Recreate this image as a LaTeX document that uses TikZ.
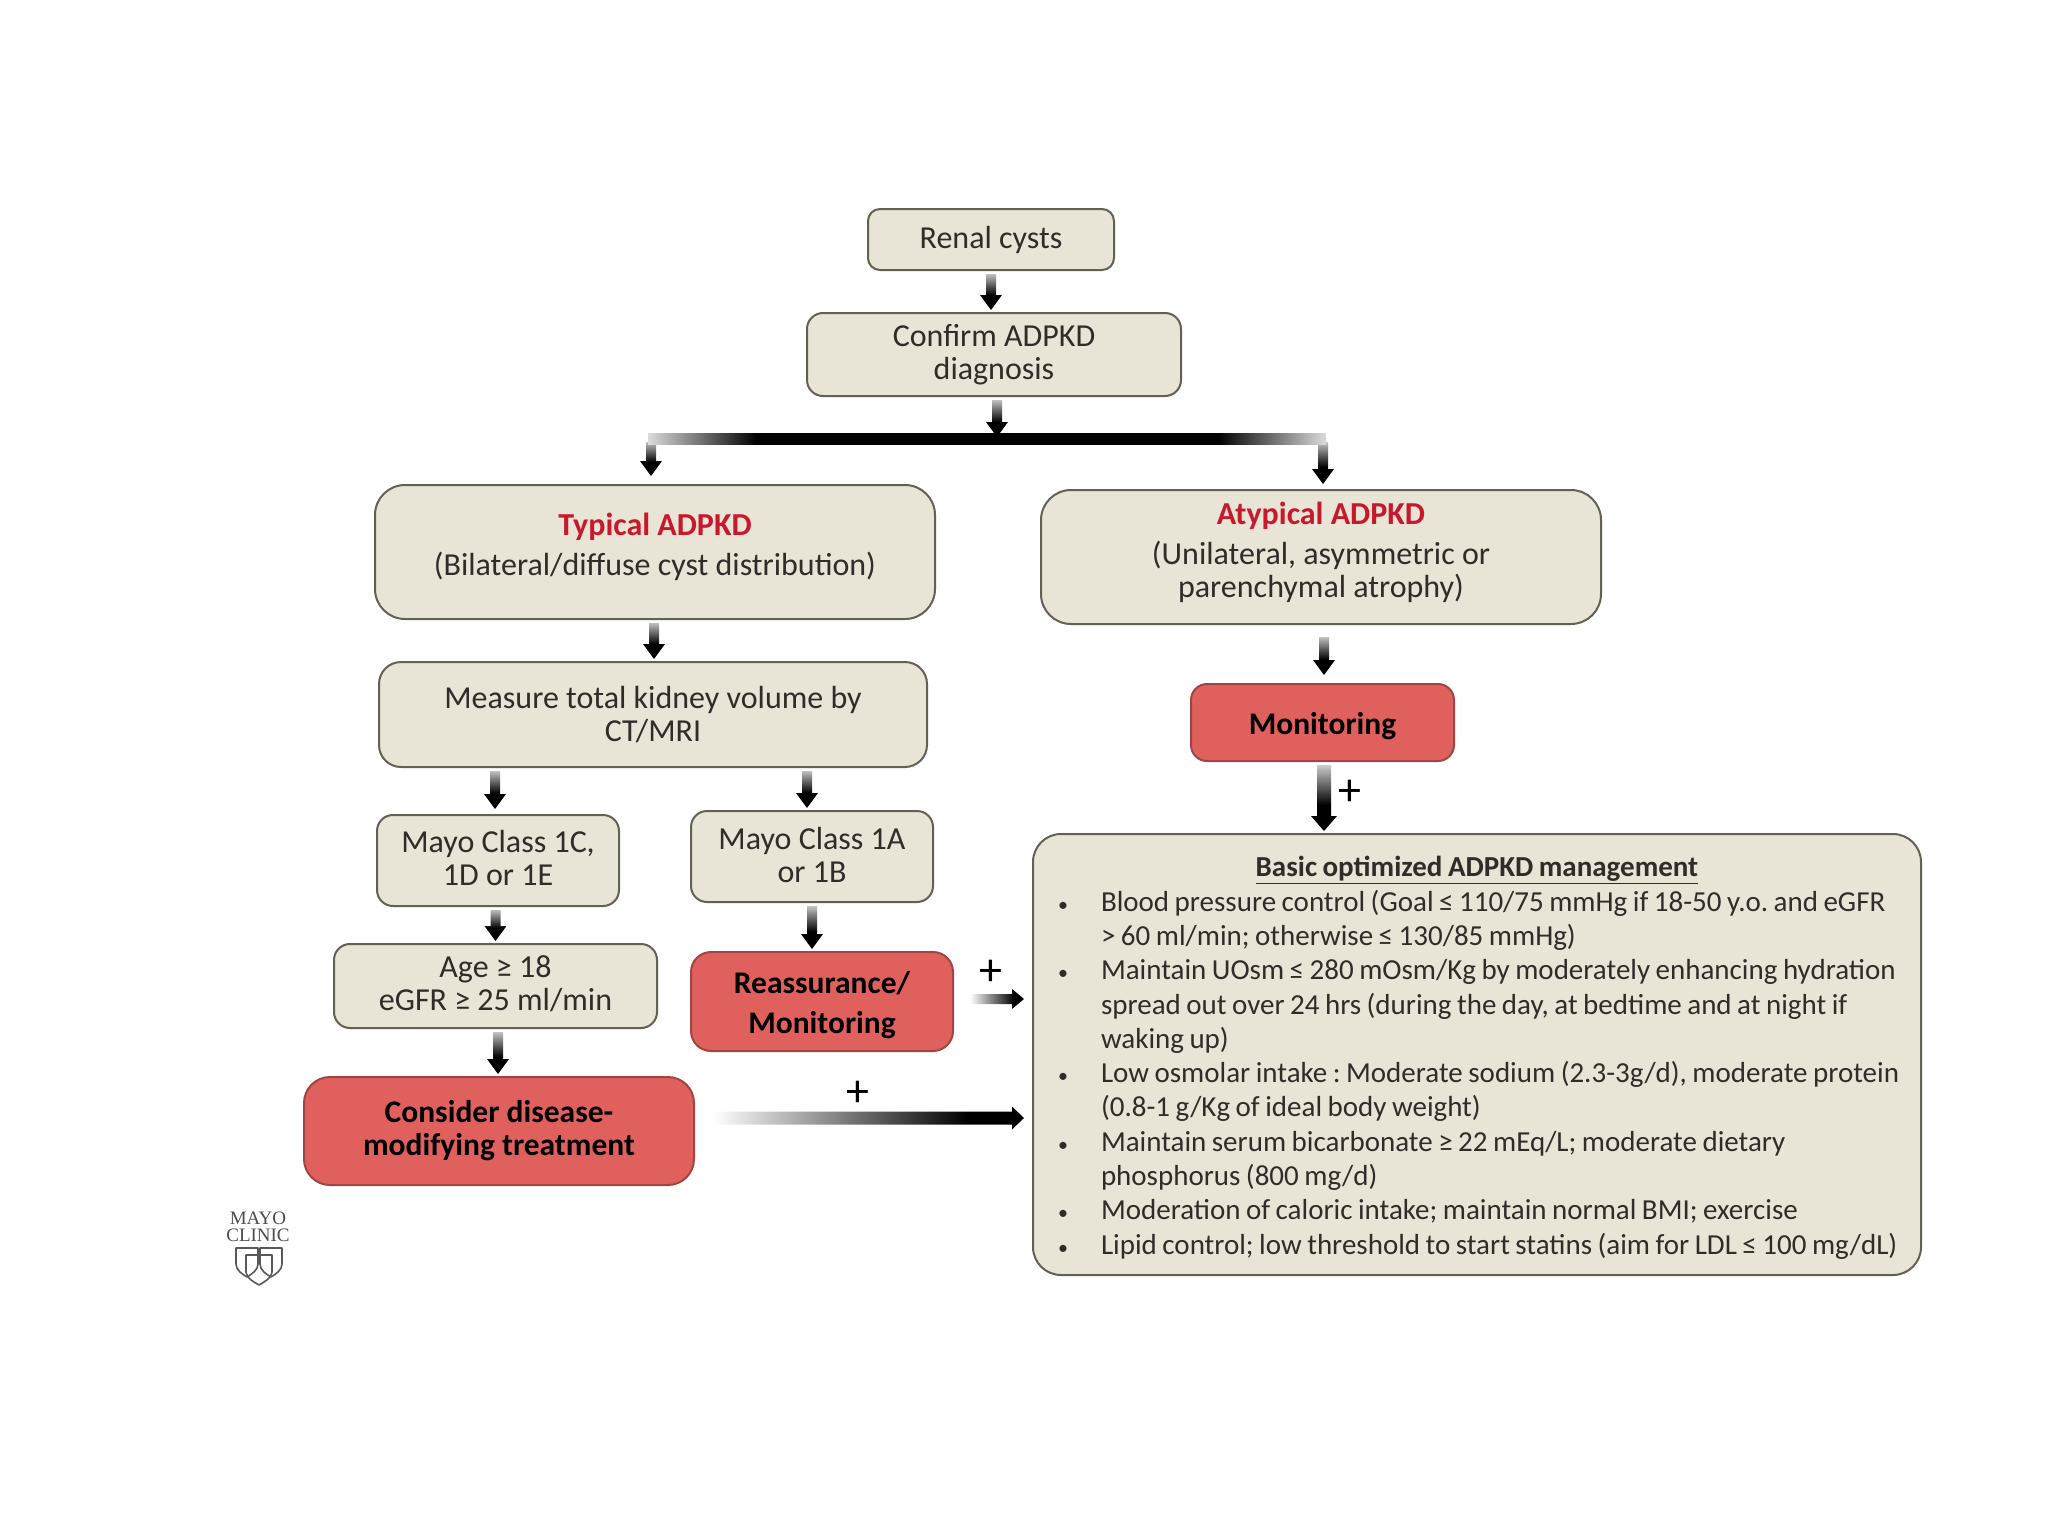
\documentclass[tikz,border=0pt]{standalone}
\usepackage{fontspec}
\setmainfont{Carlito}
\newfontfamily\logofont{Liberation Serif}
\usetikzlibrary{calc}
\definecolor{boxfill}{RGB}{232,228,214}
\definecolor{boxline}{RGB}{100,96,84}
\definecolor{redfill}{RGB}{224,96,94}
\definecolor{redline}{RGB}{160,70,66}
\definecolor{titlered}{RGB}{200,24,44}
\definecolor{inktext}{RGB}{48,44,40}
\colorlet{flowlight}{white!86!black}
\pgfdeclareverticalshading{flowvshade}{100bp}{color(0bp)=(black); color(44bp)=(black); color(75bp)=(flowlight); color(100bp)=(flowlight)}
\pgfdeclarehorizontalshading{flowhshade}{100bp}{color(0bp)=(white); color(25bp)=(white); color(66bp)=(black); color(100bp)=(black)}
\pgfdeclarehorizontalshading{barshade}{100bp}{color(0bp)=(flowlight); color(25bp)=(flowlight); color(33bp)=(black); color(67bp)=(black); color(75bp)=(flowlight); color(100bp)=(flowlight)}
\newcommand{\tightwords}{\spaceskip=5.5pt\relax\xspaceskip=5.5pt\relax}
\newcommand{\bulletline}[1]{\makebox[48pt][l]{\hspace{5pt}\fontsize{20}{20}\selectfont\textbullet}\mbox{\tightwords #1}}
\newcommand{\plainline}[1]{\makebox[48pt]{}\mbox{\tightwords #1}}
\newcommand{\liftup}[1]{\rule[-#1]{0pt}{#1}}
\newcommand{\pushdown}[1]{\rule{0pt}{#1}}
\tikzset{
  box/.style={rectangle,draw=boxline,fill=boxfill,line width=2pt,text=inktext,align=center,
    font=\fontsize{32}{33}\selectfont,inner sep=0pt},
  redbox/.style={box,draw=redline,fill=redfill,text=black,font=\fontsize{31.5}{33}\selectfont\bfseries},
  flowv/.style={shade,shading=flowvshade,to path={
    let \p1=(\tikztostart),\p2=(\tikztotarget) in
    (\x2-#1,\y1-3pt) -- (\x2-#1,\y2+17pt) -- (\x2-#1-6pt,\y2+17pt) -- (\x2,\y2+2pt)
    -- (\x2+#1+6pt,\y2+17pt) -- (\x2+#1,\y2+17pt) -- (\x2+#1,\y1-3pt) -- cycle}},
  flowv/.default=5pt,
  flowh/.style={shade,shading=flowhshade,to path={
    let \p1=(\tikztostart),\p2=(\tikztotarget) in
    (\x1,\y1+#1) -- (\x2-12pt,\y1+#1) -- (\x2-12pt,\y1+#1+5pt) -- (\x2,\y1)
    -- (\x2-12pt,\y1-#1-5pt) -- (\x2-12pt,\y1-#1) -- (\x1,\y1-#1) -- cycle}},
  plus/.style={inner sep=0pt,text=black,font=\fontsize{46}{46}\selectfont},
  logotext/.style={inner sep=0pt,text=black!70,font=\logofont\fontsize{19}{19}\selectfont}
}
\begin{document}
\begin{tikzpicture}[x=1pt,y=-1pt]
    \useasboundingbox (0,0) rectangle (2048,1536);
    \node[box,rounded corners=12pt,minimum width=246pt,minimum height=61pt] (renal) at (991,239.5) {Renal cysts};
    \node[box,rounded corners=16pt,minimum width=374pt,minimum height=83pt] (confirm) at (994,354.5) {Confirm ADPKD\\diagnosis};
    \node[box,rounded corners=30pt,minimum width=560pt,minimum height=134pt] (typical) at (655,552)
      {\textcolor{titlered}{\bfseries Typical ADPKD}\\[7pt](Bilateral/diffuse cyst distribution)\liftup{15pt}};
    \node[box,rounded corners=30pt,minimum width=560pt,minimum height=134pt] (atypical) at (1321,557)
      {\textcolor{titlered}{\bfseries Atypical ADPKD}\\[7pt](Unilateral, asymmetric or\\parenchymal atrophy)\liftup{14pt}};
    \node[box,rounded corners=22pt,minimum width=548pt,minimum height=105pt] (measure) at (653,714.5) {Measure total kidney volume by\\CT/MRI};
    \node[redbox,rounded corners=16pt,minimum width=263pt,minimum height=77pt] (monitoring) at (1322.5,722.5) {\pushdown{30pt}Monitoring};
    \node[box,rounded corners=16pt,minimum width=242pt,minimum height=91pt] (mayoc) at (498,860.5) {Mayo Class 1C,\\1D or 1E\liftup{6pt}};
    \node[box,rounded corners=16pt,minimum width=242pt,minimum height=91pt] (mayoa) at (812,856.5) {Mayo Class 1A\\or 1B\liftup{3pt}};
    \node[box,rounded corners=16pt,minimum width=323pt,minimum height=84pt] (age) at (495.5,986) {Age ≥ 18\\eGFR ≥ 25 ml/min\liftup{6pt}};
    \node[redbox,rounded corners=20pt,minimum width=262pt,minimum height=99pt] (reassurance) at (822,1001.5) {\pushdown{30pt}Reassurance/\\[7pt]Monitoring};
    \node[redbox,rounded corners=26pt,minimum width=390pt,minimum height=108pt] (consider) at (499,1131) {Consider disease-\\modifying treatment};
    \node[box,rounded corners=28pt,minimum width=888pt,minimum height=441pt,align=left,text width=848pt,
      font=\fontsize{29}{34.3}\selectfont] (basic) at (1477,1054.5) {%
      \pushdown{27pt}\makebox[848pt][c]{\tightwords\bfseries\underline{Basic optimized ADPKD management}}\\
      \bulletline{Blood pressure control (Goal ≤ 110/75 mmHg if 18-50 y.o. and eGFR}\\
      \plainline{> 60 ml/min; otherwise ≤ 130/85 mmHg)}\\
      \bulletline{Maintain UOsm ≤ 280 mOsm/Kg by moderately enhancing hydration}\\
      \plainline{spread out over 24 hrs (during the day, at bedtime and at night if}\\
      \plainline{waking up)}\\
      \bulletline{Low osmolar intake : Moderate sodium (2.3-3g/d), moderate protein}\\
      \plainline{(0.8-1 g/Kg of ideal body weight)}\\
      \bulletline{Maintain serum bicarbonate ≥ 22 mEq/L; moderate dietary}\\
      \plainline{phosphorus (800 mg/d)}\\
      \bulletline{Moderation of caloric intake; maintain normal BMI; exercise}\\
      \bulletline{Lipid control; low threshold to start statins (aim for LDL ≤ 100 mg/dL)}};
    \coordinate (barleft) at (651,439);
    \coordinate (barright) at (1323,439);
    \coordinate (barmid) at (997,439);
    \path[flowv] (renal.south) to ([xshift=-3pt]confirm.north);
    \path[flowv] (confirm.south) to (barmid);
    \path[flowv] (barleft) to ([xshift=-4pt,yshift=6pt]typical.north);
    \path[flowv] (barright) to ([xshift=2pt,yshift=3pt]atypical.north);
    \fill[shade,shading=barshade] ($(barleft)+(-3,-5.5)$) rectangle ($(barright)+(3,5.5)$);
    \path[flowv] (typical.south) to ([xshift=1pt]measure.north);
    \path[flowv] ([yshift=-9pt]atypical.south) to ([xshift=1.5pt,yshift=6pt]monitoring.north);
    \path[flowv=7pt] (monitoring.south) to ([xshift=1.5pt]monitoring.south |- basic.north);
    \path[flowv] (measure.south) to ([xshift=-3pt,yshift=3pt]mayoc.north);
    \path[flowv] (measure.south) to ([xshift=-5pt]mayoa.north);
    \path[flowv] (mayoc.south) to (age.north);
    \path[flowv] (mayoa.south) to ([xshift=-10pt]reassurance.north);
    \path[flowv] (age.south) to ([xshift=-1pt]consider.north);
    \path[flowh=5pt] ([xshift=16pt,yshift=2.5pt]reassurance.east) to ([xshift=-8pt]basic.west);
    \path[flowh=6.5pt] ([xshift=18pt,yshift=13pt]consider.east) to ([xshift=-8pt]basic.west);
    \node[plus] (plusa) at (1350,793) {+};
    \node[plus] (plusb) at (991,973) {+};
    \node[plus] (plusc) at (858,1094) {+};
    \node[logotext] (logoa) at (258,1218) {MAYO};
    \node[logotext] (logob) at (258,1235) {CLINIC};
    \draw[black!65,line width=1.6pt,line join=round] (236,1248) -- (258,1248) -- (258,1264) .. controls (258,1270) and (252,1274) .. (247,1277) .. controls (242,1274) and (236,1270) .. (236,1264) -- cycle;
    \draw[black!65,line width=1.6pt,line join=round] (260,1248) -- (282,1248) -- (282,1264) .. controls (282,1270) and (276,1274) .. (271,1277) .. controls (266,1274) and (260,1270) .. (260,1264) -- cycle;
    \draw[black!65,line width=1.6pt,line join=round] (246,1255) -- (272,1255) -- (272,1272) .. controls (272,1278) and (264,1282) .. (259,1285) .. controls (254,1282) and (246,1278) .. (246,1272) -- cycle;
  \end{tikzpicture}
\end{document}
